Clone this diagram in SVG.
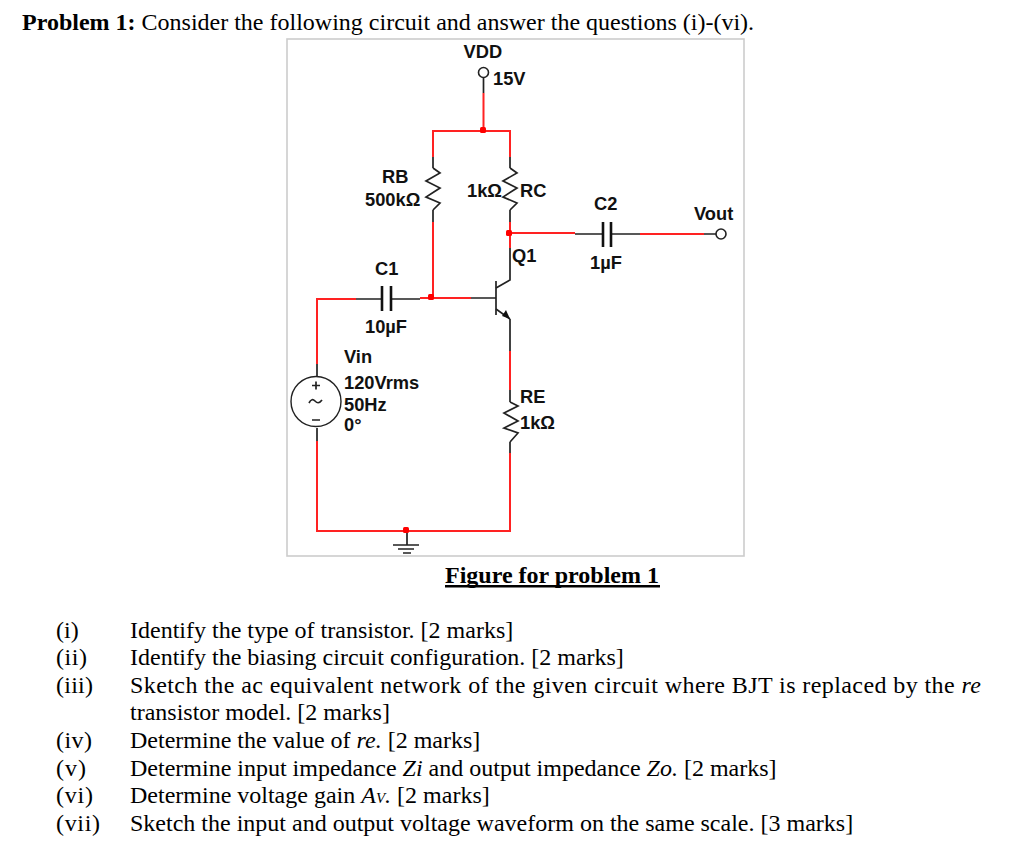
<svg xmlns="http://www.w3.org/2000/svg" width="1018" height="849" viewBox="0 0 1018 849">
<style>
.t{font-family:"Liberation Serif",serif;font-size:24px;fill:#000}
.l{font-family:"Liberation Sans",sans-serif;font-size:18.300px;font-weight:700;fill:#111}
.r{fill:none;stroke:#f22;stroke-width:2}
.k{fill:none;stroke:#222;stroke-width:1.700}
.p{fill:none;stroke:#111;stroke-width:2.600}
.d{fill:#f00}
</style>
<rect width="1018" height="849" fill="#fff"/>
<text class="t" x="22" y="30"><tspan font-weight="700">Problem 1:</tspan> Consider the following circuit and answer the questions (i)-(vi).</text>
<rect id="frame" x="287" y="39" width="457" height="517" fill="#fff" stroke="#ccc" stroke-width="1.600"/>
<g id="connectors">
<path class="r" d="M483.500 93V131M433 157V131H510V157M433 222V298M510 222V248M510 233H575M640 234H704M356 299H317V364M420 298H471M317 441V531H510V453M510 351V390"/>
<path class="k" d="M483.500 78V93M433 157V168M433 210V222M510 157V168M510 210V222M510 248V260M575 234H602M612 234H640M704 234H716M356 299H382M392 299H420M471 298H496M510 319V351M510 390V402M510 442V453M317 364V376M317 428V441M407 531V545"/>
</g>
<g id="VDD">
<circle cx="483.500" cy="72.500" r="5" fill="#fff" stroke="#222" stroke-width="1.600"/>
<text class="l" x="463.500" y="58">VDD</text><text class="l" x="493" y="85">15V</text>
<rect class="d" x="480" y="127" width="6" height="6" rx="1.500"/>
</g>
<g id="RB">
<path class="k" d="M433 168L440 173L426 181L440 188L426 197L440 203L433 210"/>
<text class="l" x="382" y="183">RB</text><text class="l" x="365" y="206">500kΩ</text>
</g>
<g id="RC">
<path class="k" d="M510 168L517 173L503 181L517 188L503 197L517 203L510 210"/>
<text class="l" x="467" y="197">1kΩ</text><text class="l" x="520" y="197">RC</text>
<rect class="d" x="506" y="230" width="6" height="6" rx="1.500"/>
</g>
<g id="C2">
<path class="p" d="M603 222V247M611 222V247"/>
<text class="l" x="594" y="210">C2</text><text class="l" x="590" y="269">1µF</text>
</g>
<g id="Vout">
<circle cx="721" cy="234" r="5" fill="#fff" stroke="#222" stroke-width="1.600"/>
<text class="l" x="694" y="220">Vout</text>
</g>
<g id="C1">
<path class="p" d="M382 286V311M391 286V311"/>
<text class="l" x="375" y="275">C1</text><text class="l" x="365" y="333">10µF</text>
<rect class="d" x="428" y="294" width="6" height="6" rx="1.500"/>
</g>
<g id="Q1">
<path class="k" d="M496 281V315" stroke-width="2"/>
<path class="k" d="M496 288L510 280V260M496 309L510 319"/>
<path d="M510 319L502 316L506 310Z" fill="#111"/>
<text class="l" x="512" y="262">Q1</text>
</g>
<g id="Vin">
<circle cx="316" cy="401.500" r="25" fill="#fff" stroke="#222" stroke-width="1.400"/>
<path class="k" d="M312 385.500h8M316 381.500v8M312 420h8" stroke-width="1.300"/>
<path class="k" d="M309 403c2-4 4-4 6-2s4 3 7-1" stroke-width="1.300"/>
<text class="l" x="344" y="363">Vin</text><text class="l" x="344" y="389">120Vrms</text><text class="l" x="344" y="411">50Hz</text><text class="l" x="344" y="431">0°</text>
</g>
<g id="RE">
<path class="k" d="M510 402L518 406L504 413L518 421L504 428L518 433L510 442"/>
<text class="l" x="520" y="403">RE</text><text class="l" x="520" y="429">1kΩ</text>
</g>
<g id="GND">
<rect class="d" x="403" y="527" width="6" height="6" rx="1.500"/>
<path class="k" d="M393 545H419M398 549H414M403 553H411"/>
</g>
<text class="t" x="445" y="583" font-weight="700">Figure for problem 1</text>
<rect x="445" y="585" width="215" height="2.500" fill="#000"/>
<g class="t">
<text x="56" y="638">(i)</text><text x="130" y="638">Identify the type of transistor. [2 marks]</text>
<text x="56" y="665" textLength="31">(ii)</text><text x="130" y="665">Identify the biasing circuit configuration. [2 marks]</text>
<text x="56" y="693" textLength="37">(iii)</text><text x="130" y="693" textLength="851">Sketch the ac equivalent network of the given circuit where BJT is replaced by the <tspan font-style="italic">re</tspan></text>
<text x="130" y="720">transistor model. [2 marks]</text>
<text x="56" y="748" textLength="36">(iv)</text><text x="130" y="748">Determine the value of <tspan font-style="italic">re.</tspan> [2 marks]</text>
<text x="56" y="776" textLength="30">(v)</text><text x="130" y="776">Determine input impedance <tspan font-style="italic">Zi</tspan> and output impedance <tspan font-style="italic">Zo.</tspan> [2 marks]</text>
<text x="56" y="803" textLength="37">(vi)</text><text x="130" y="803">Determine voltage gain <tspan font-style="italic">A<tspan font-size="15">V</tspan>.</tspan> [2 marks]</text>
<text x="56" y="831" textLength="44">(vii)</text><text x="130" y="831">Sketch the input and output voltage waveform on the same scale. [3 marks]</text>
</g>
</svg>
